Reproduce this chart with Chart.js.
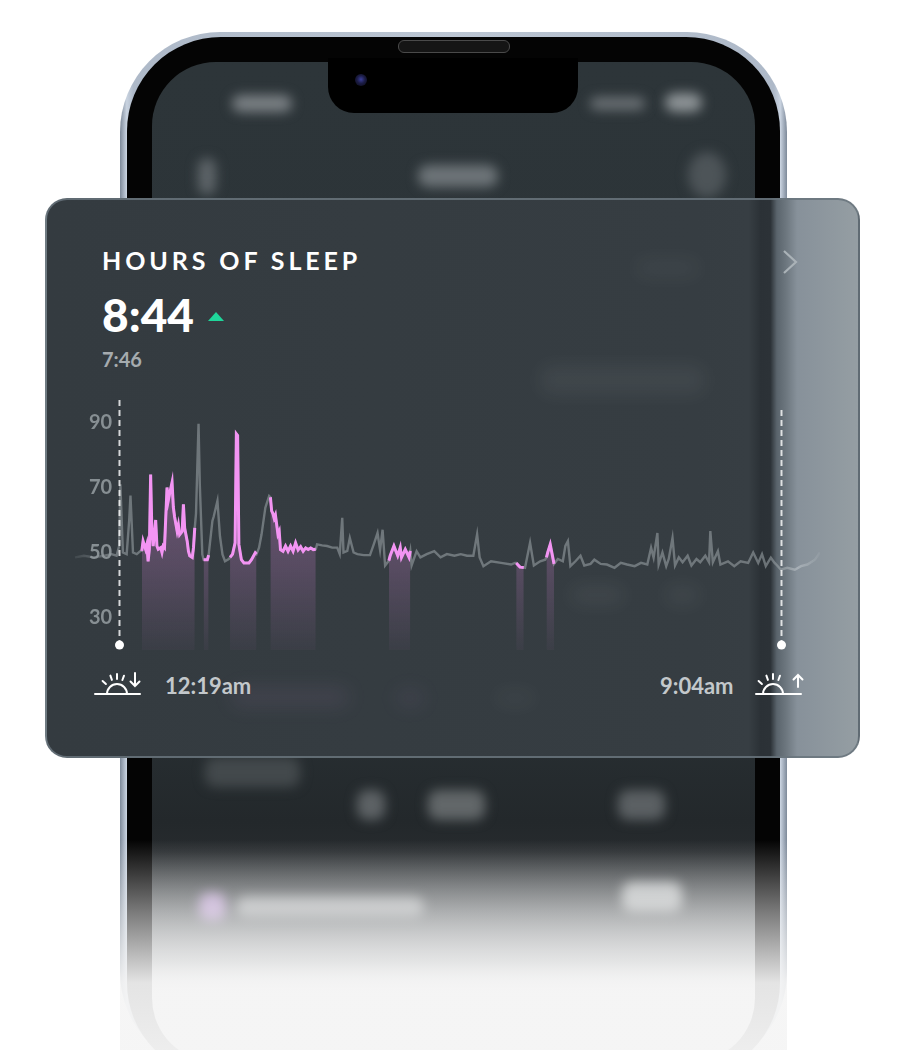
<!DOCTYPE html>
<html>
<head>
<meta charset="utf-8">
<script src="https://cdn.jsdelivr.net/npm/chart.js"></script>
<style>
html, body { margin: 0; width: 906px; height: 1050px; overflow: hidden; background: #fff; font-family: Lato, "Noto Sans", sans-serif; }
.abs { position: absolute; }
.phone { left: 120px; top: 32px; width: 667px; height: 1040px; border-radius: 100px;
  background: linear-gradient(90deg, #7d8999 0%, #c9d3e0 1%, #aeb9c8 2%, #bcc6d3 50%, #aeb9c8 98%, #c9d3e0 99%, #7d8999 100%); }
.bezel { left: 127px; top: 37px; width: 653px; height: 1040px; border-radius: 94px; background: #040404; }
.screen { left: 152px; top: 62px; width: 603px; height: 1000px; border-radius: 64px; overflow: hidden;
  background: linear-gradient(180deg, #2d3539 0px, #2b3337 600px, #23282b 760px, #272b2e 790px, #9ea2a4 900px, #f2f2f2 930px); }
.notch { left: 328px; top: 58px; width: 250px; height: 55px; background: #000; border-radius: 0 0 26px 26px; }
.speaker { left: 398px; top: 40px; width: 110px; height: 11px; border-radius: 6px; background: #151515; border: 1px solid #4a4a4a; }
.cam { left: 355px; top: 74px; width: 12px; height: 12px; border-radius: 50%; background: radial-gradient(circle at 50% 45%, #3b3f9a 0, #1b1c44 45%, #0a0a12 100%); }
.blob { position: absolute; border-radius: 10px; filter: blur(6px); }
.fade { left: 120px; top: 840px; width: 667px; height: 210px;
  background: linear-gradient(180deg, rgba(245,245,245,0) 0%, rgba(245,245,245,0.5) 35%, rgba(245,245,245,0.93) 68%, rgba(245,245,245,0.97) 100%); }
.card { left: 45px; top: 198px; width: 811px; height: 556px; border-radius: 22px; border: 2px solid rgba(104,116,124,0.85); overflow: hidden;
  background: linear-gradient(90deg, #343b40 0%, #363d42 80%, #373e43 86.5%, #2b3136 88%, #2c3237 89.2%, #5a646c 90%, #6e7880 91.2%, #87919a 92.5%, #959ea3 100%); }
.cblob { position: absolute; border-radius: 10px; filter: blur(9px); }
.title { left: 102px; top: 248px; font-size: 25px; line-height: 25px; font-weight: 700; letter-spacing: 3.9px; color: #fff; }
.big { left: 102px; top: 292px; font-size: 46px; line-height: 46px; font-weight: 900; color: #fff; }
.tri { left: 208px; top: 312px; width: 0; height: 0; border-left: 8px solid transparent; border-right: 8px solid transparent; border-bottom: 9px solid #1fd69a; }
.prev { left: 102px; top: 349px; font-size: 20px; line-height: 20px; font-weight: 700; color: #a5abaf; }
.time { top: 675px; font-size: 22px; line-height: 22px; font-weight: 700; color: #c3c8cb; }
#sleepChart { position: absolute; left: 75px; top: 390px; }
</style>
</head>
<body>
<div class="abs phone"></div>
<div class="abs bezel"></div>
<div class="abs screen"></div>
<div class="abs notch"></div>
<div class="abs speaker"></div>
<div class="abs cam"></div>

<!-- blurred app content behind the card -->
<div class="blob" style="left:232px;top:95px;width:60px;height:17px;background:#7a8084"></div>
<div class="blob" style="left:590px;top:97px;width:55px;height:13px;background:#6a7074"></div>
<div class="blob" style="left:665px;top:93px;width:37px;height:19px;background:#8d9396"></div>
<div class="blob" style="left:198px;top:158px;width:18px;height:37px;background:#5d6468"></div>
<div class="blob" style="left:418px;top:165px;width:80px;height:22px;background:#6d7478"></div>
<div class="blob" style="left:688px;top:152px;width:38px;height:46px;border-radius:50%;background:#4d5458"></div>
<div class="blob" style="left:205px;top:757px;width:95px;height:30px;background:#43494c"></div>
<div class="blob" style="left:357px;top:790px;width:28px;height:30px;background:#5d6265"></div>
<div class="blob" style="left:428px;top:790px;width:57px;height:30px;background:#626769"></div>
<div class="blob" style="left:618px;top:790px;width:47px;height:30px;background:#5b6063"></div>
<div class="blob" style="left:199px;top:893px;width:27px;height:28px;background:#b89dcb"></div>
<div class="blob" style="left:236px;top:897px;width:188px;height:20px;background:#a8abad"></div>
<div class="blob" style="left:622px;top:882px;width:60px;height:30px;background:#b8bbbc"></div>
<div class="abs fade"></div>

<div class="abs card"></div>
<div class="cblob" style="left:540px;top:365px;width:165px;height:30px;background:rgba(255,255,255,0.05)"></div>
<div class="cblob" style="left:635px;top:258px;width:65px;height:20px;background:rgba(255,255,255,0.04)"></div>
<div class="cblob" style="left:570px;top:585px;width:55px;height:20px;background:rgba(255,255,255,0.05)"></div>
<div class="cblob" style="left:665px;top:585px;width:35px;height:20px;background:rgba(255,255,255,0.05)"></div>
<div class="cblob" style="left:230px;top:686px;width:120px;height:22px;background:rgba(210,160,230,0.07)"></div>
<div class="cblob" style="left:395px;top:688px;width:30px;height:20px;background:rgba(210,160,230,0.06)"></div>
<div class="cblob" style="left:495px;top:690px;width:40px;height:16px;background:rgba(255,255,255,0.04)"></div>

<div class="abs title">HOURS OF SLEEP</div>
<svg class="abs" style="left:780px;top:248px" width="20" height="30" viewBox="0 0 20 30">
  <polyline points="4,3 16,14 4,25" fill="none" stroke="#aab2b7" stroke-width="2.2"/>
</svg>
<div class="abs big">8:44</div>
<div class="abs tri"></div>
<div class="abs prev">7:46</div>

<canvas id="sleepChart" width="745" height="260"></canvas>

<svg class="abs" style="left:93px;top:668px" width="52" height="30" viewBox="0 0 52 30">
  <g fill="none" stroke="#fff" stroke-width="2" stroke-linecap="round">
    <path d="M2 26 H47"/>
    <path d="M14 26 A10 10 0 0 1 34 26"/>
    <path d="M12.9 16 L9.6 13"/>
    <path d="M18.9 11.9 L17.4 7.6"/>
    <path d="M24 11 L24 6"/>
    <path d="M29.4 12 L31 7.7"/>
    <path d="M42 5 V18 M37.5 13.5 L42 18 L46.5 13.5"/>
  </g>
</svg>
<div class="abs time" style="left:165px">12:19am</div>
<div class="abs time" style="left:660px">9:04am</div>
<svg class="abs" style="left:749px;top:668px" width="56" height="30" viewBox="0 0 56 30">
  <g fill="none" stroke="#fff" stroke-width="2" stroke-linecap="round">
    <path d="M7 26 H52"/>
    <path d="M14 26 A10 10 0 0 1 34 26"/>
    <path d="M12.9 16 L9.6 13"/>
    <path d="M18.9 11.9 L17.4 7.6"/>
    <path d="M24 11 L24 6"/>
    <path d="M29.4 12 L31 7.7"/>
    <path d="M49 19 V7 M44.5 11.5 L49 7 L53.5 11.5"/>
  </g>
</svg>

<script>
// minutes after bedtime (12:19am), heart rate in bpm
const minutes = [
  -35, -28, -20, -12, -6, -2, 0, 1, 3, 6, 8, 9, 11, 14, 17,
  18, 19, 21, 22, 23, 24, 25, 26, 27, 29, 30, 31, 33, 34, 35, 36, 38, 39, 40, 42, 43, 44, 46, 47, 48, 50, 51, 52, 54, 55, 56, 58, 59, 60,
  61, 63, 64, 66,
  67, 70, 71,
  74, 75, 78, 80, 82, 84, 87,
  88, 90, 92, 93, 94, 95, 97, 99, 103, 105, 108, 109,
  111, 113, 116, 119,
  120, 121, 122, 123, 124, 126, 127, 128, 130, 132, 134, 136, 138, 140, 142, 144, 146, 148, 150, 152, 154, 156,
  157, 161, 165, 169, 173, 175, 177, 178, 181, 183, 186, 189, 194, 199, 202, 205, 207, 209, 211,
  214, 215, 218, 221, 223, 224, 227, 230, 231,
  232, 236, 239, 244, 250, 255, 260, 266, 271, 276, 281, 284, 286, 289, 295, 303, 311, 314,
  315, 318, 321,
  322, 326, 329, 334, 338,
  339, 340, 342, 343, 345,
  348, 352, 354, 356, 358, 362, 366, 369, 374, 377, 382, 387, 393, 398, 403, 409, 414, 419, 422, 424,
  427, 428, 431, 434, 436, 439, 441, 444, 447, 451, 454, 458, 461, 465, 468, 469, 471, 475, 477, 483,
  488, 493, 499, 503, 507, 510, 513, 517, 520, 522, 525, 530, 536, 541, 546, 552, 556
];
const heartRate = [
  48.5, 49, 48.5, 49, 49.5, 49, 52, 71, 50, 49.5, 60, 67.5, 50, 49.5, 50.5,
  50.5, 53.5, 51, 52.5, 47.3, 51, 74, 56.5, 52, 60, 52, 51, 51.5, 50, 52, 51.5, 70, 66, 68, 71.6, 64, 61, 56.6, 58.5, 55.5, 56.5, 64.8, 57.5, 53.5, 50.4, 49, 48.5, 51.5, 57.6,
  62, 89.6, 71, 49.4,
  47.8, 47.8, 49.2,
  59.7, 61, 65.9, 55, 49.4, 47.3, 48,
  48.5, 49.5, 53, 86.5, 86, 52.5, 47.8, 46.8, 46.8, 47.8, 49.9, 49.5,
  51.5, 55.6, 63.8, 67.4,
  67, 62.8, 62, 60.5, 61.5, 55.6, 56.5, 50.9, 50.4, 52, 50.4, 52, 50.4, 53, 50.8, 51.8, 50.4, 51.4, 50.9, 51.4, 50.9, 51,
  52.5, 52.2, 52, 51.5, 51.5, 49.5, 60.7, 50, 50.5, 54.5, 50, 49.5, 49.2, 49.2, 52.5, 56, 50.8, 57, 46,
  47.5, 49, 52, 49, 51.5, 48.5, 51, 48.5, 50.5,
  46, 50.4, 48.5, 49.5, 50.4, 48.5, 49.5, 49, 49.5, 49, 49, 55.6, 48.5, 45.8, 47.3, 46.8, 46.3, 46.8,
  46.8, 45.5, 45.4,
  45.3, 53, 46, 47.3, 47.8,
  48.5, 50, 52.5, 50.5, 46.5,
  48, 47.3, 52, 53.5, 45.8, 47.3, 49, 46, 46.5, 47.8, 46.5, 46.3, 45.3, 46.8, 46.3, 45.8, 46.8, 46.3, 51.5, 48.4,
  56, 46.3, 50, 45.8, 48, 54.5, 46, 48.5, 47, 49, 46, 48, 47, 49, 47, 56.6, 47, 50.4, 46.3, 47.3,
  45.8, 47.3, 46.8, 50, 46.8, 49.5, 45.8, 48.4, 46.8, 46, 44.7, 45.3, 44.7, 45.8, 46.3, 47.8, 50
];
// stretches of deep sleep, [start, end] in minutes
const sleepSegments = [[18, 60], [67, 71], [88, 109], [120, 156], [214, 231], [315, 321], [339, 345]];
const yTicks = [30, 50, 70, 90];
const bedTime = 0;    // 12:19am
const wakeTime = 525; // 9:04am

const inSleep = m => sleepSegments.some(s => m >= s[0] && m <= s[1]);
const allPoints = minutes.map((m, i) => ({ x: m, y: heartRate[i] }));
const sleepPoints = minutes.map((m, i) => ({ x: m, y: inSleep(m) ? heartRate[i] : null }));

const markers = {
  id: 'markers',
  afterDraw(chart) {
    const c = chart.ctx;
    const x = chart.scales.x;
    const top = chart.chartArea.top;
    const bottom = chart.chartArea.bottom;
    [bedTime, wakeTime].forEach((t, i) => {
      const px = Math.round(x.getPixelForValue(t)) + 0.5;
      c.save();
      c.strokeStyle = 'rgba(255,255,255,0.8)';
      c.lineWidth = 2;
      c.setLineDash([6, 4]);
      c.beginPath();
      c.moveTo(px, top + (i ? 20 : 10));
      c.lineTo(px, bottom - 6);
      c.stroke();
      c.setLineDash([]);
      c.fillStyle = '#fff';
      c.beginPath();
      c.arc(px, bottom - 5, 4.5, 0, Math.PI * 2);
      c.fill();
      c.restore();
    });
  }
};

new Chart(document.getElementById('sleepChart'), {
  type: 'line',
  data: {
    datasets: [
      {
        data: sleepPoints,
        borderColor: '#f394f3',
        borderWidth: 3,
        pointRadius: 0,
        tension: 0,
        spanGaps: false,
        fill: 'start',
        backgroundColor: ctx => {
          const ca = ctx.chart.chartArea;
          if (!ca) return 'rgba(240,145,240,0.15)';
          const g = ctx.chart.ctx.createLinearGradient(0, ca.top + 120, 0, ca.bottom);
          g.addColorStop(0, 'rgba(240,145,240,0.26)');
          g.addColorStop(0.4, 'rgba(240,145,240,0.19)');
          g.addColorStop(1, 'rgba(240,145,240,0.03)');
          return g;
        }
      },
      {
        data: allPoints,
        borderColor: ctx => {
          const ca = ctx.chart.chartArea;
          if (!ca) return 'rgba(150,158,162,0.6)';
          const g = ctx.chart.ctx.createLinearGradient(ca.left, 0, ca.right, 0);
          g.addColorStop(0, 'rgba(150,158,162,0.15)');
          g.addColorStop(0.05, 'rgba(150,158,162,0.6)');
          g.addColorStop(0.94, 'rgba(150,158,162,0.6)');
          g.addColorStop(0.97, 'rgba(200,206,210,0.5)');
          g.addColorStop(1, 'rgba(200,206,210,0.1)');
          return g;
        },
        borderWidth: 2.4,
        pointRadius: 0,
        tension: 0,
        fill: false
      }
    ]
  },
  options: {
    responsive: false,
    animation: false,
    layout: { padding: 0 },
    plugins: { legend: { display: false }, tooltip: { enabled: false } },
    scales: {
      x: { type: 'linear', min: -35, max: 556, display: false },
      y: {
        min: 20,
        max: 100,
        z: 1,
        afterFit: s => { s.width = 0; s.paddingTop = 0; s.paddingBottom = 0; },
        afterBuildTicks: s => { s.ticks = yTicks.map(v => ({ value: v })); },
        grid: { display: false },
        border: { display: false },
        ticks: { mirror: true, padding: 14, color: '#878f93', font: { family: 'Lato', weight: 'bold', size: 20 } }
      }
    }
  },
  plugins: [markers]
});
</script>
</body>
</html>
